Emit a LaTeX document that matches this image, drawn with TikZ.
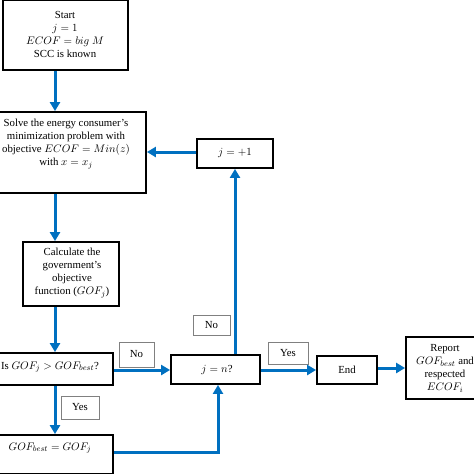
\documentclass[tikz,border=0pt]{standalone}
\usepackage{fontspec}
\setmainfont{Liberation Serif}
\usetikzlibrary{arrows.meta}
\definecolor{flowblue}{HTML}{0070C0}
\begin{document}
\begin{tikzpicture}[x=1pt,y=-1pt,
 box/.style={draw=black, line width=1.8pt, fill=white, rectangle, inner sep=0pt},
 tag/.style={draw=gray, line width=0.8pt, fill=white, inner sep=0pt, font=\fontsize{10.8}{13}\selectfont},
 txt/.style={align=center, font=\fontsize{10.8}{13}\selectfont, inner sep=0pt},
 arr/.style={draw=flowblue, line width=3pt, -{Triangle[length=9pt,width=10pt]}}]
\useasboundingbox (0,0) rectangle (474,474);
\clip (0,0) rectangle (474,474);
% boxes
\node[box, minimum width=125pt, minimum height=70pt] (start) at (65.5,35) {};
\node[box, minimum width=147pt, minimum height=81pt] (b2) at (72.5,152.5) {};
\node[box, minimum width=76pt, minimum height=29pt] (jp) at (235,153.5) {};
\node[box, minimum width=96pt, minimum height=64pt] (calc) at (71,274) {};
\node[box, minimum width=133pt, minimum height=32pt] (dec) at (46.5,369) {};
\node[box, minimum width=89pt, minimum height=29pt] (jn) at (215.5,369.5) {};
\node[box, minimum width=60pt, minimum height=28pt] (end) at (347,370) {};
\node[box, minimum width=84pt, minimum height=62pt] (rep) at (448,368) {};
\node[box, minimum width=126pt, minimum height=39pt] (gb) at (50,454.5) {};
% texts
\node[txt] (tstart) at (65,34) {Start\\ $j = 1$\\ $ECOF = big\ M$\\ SCC is known};
\node[txt] (tb2) at (66,144) {Solve the energy consumer’s\\ minimization problem with\\ objective $ECOF = Min(z)$\\ with $x = x_j$};
\node[txt] (tjp) at (235,153) {$j = +1$};
\node[txt] (tcalc) at (72,273) {Calculate the\\ government’s\\ objective\\ function ($GOF_j$)};
\node[txt] (tdec) at (50,367) {Is $GOF_j > GOF_{best}$?};
\node[txt] (tjn) at (217,370) {$j = n$?};
\node[txt] (tend) at (347,370) {End};
\node[txt] (trep) at (445,368.5) {Report\\ $GOF_{best}$ and\\ respected\\ $ECOF_i$};
\node[txt] (tgb) at (50,448) {$GOF_{best} = GOF_j$};
% tags
\node[tag, minimum width=35pt, minimum height=25pt] (no1) at (136.5,354.5) {No};
\node[tag, minimum width=38pt, minimum height=23pt] (yes1) at (80,407.5) {Yes};
\node[tag, minimum width=37pt, minimum height=20pt] (no2) at (211.5,325) {No};
\node[tag, minimum width=40pt, minimum height=22pt] (yes2) at (288,353) {Yes};
% connectors
\coordinate (xa) at (55,0);
\coordinate (xb) at (235,0);
\coordinate (xc) at (218,0);
\coordinate (ya) at (0,370);
\coordinate (yb) at (0,368);
\coordinate (yc) at (0,152);
\coordinate (yd) at (0,452);
\draw[arr] (start.south -| xa) -- (b2.north -| xa);
\draw[arr] (b2.south -| xa) -- (calc.north -| xa);
\draw[arr] (calc.south -| xa) -- (dec.north -| xa);
\draw[arr] (dec.south -| xa) -- (gb.north -| xa);
\draw[arr] (dec.east |- ya) -- (jn.west |- ya);
\draw[arr] (jn.east |- ya) -- (end.west |- ya);
\draw[arr] (end.east |- yb) -- (rep.west |- yb);
\draw[arr] (jn.north -| xb) -- (jp.south -| xb);
\draw[arr] (jp.west |- yc) -- (b2.east |- yc);
\draw[arr] (gb.east |- yd) -| (jn.south -| xc);
\end{tikzpicture}
\end{document}
